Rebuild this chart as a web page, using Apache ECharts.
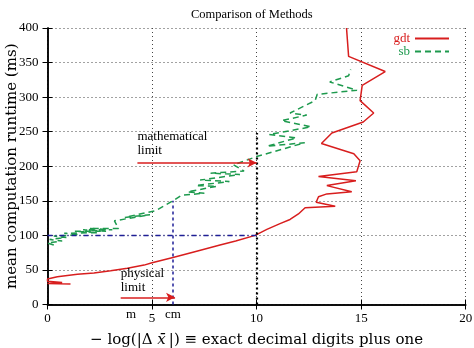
<!DOCTYPE html>
<html>
<head>
<meta charset="utf-8">
<script src="https://cdn.jsdelivr.net/npm/echarts@6/dist/echarts.min.js"></script>
<style>
  html, body { margin: 0; padding: 0; background: #fff; }
  #chart { width: 474px; height: 348px; }
</style>
</head>
<body>
<div id="chart"></div>
<script>
// Runtime (ms) against exact decimal digits for two methods.
const gdtDigits = [1.1, 0.0, 0.7, 0.0, 0.0, 0.47, 1.43, 2.22, 3.02, 3.82, 4.62, 5.0, 6.0, 7.0, 8.25, 9.0, 9.93,
  10.49, 11.12, 11.6, 12.0, 12.32, 13.76, 12.85, 12.96, 13.36, 14.55, 13.36, 14.75, 12.96, 14.79, 14.95,
  14.65, 13.1, 13.6, 15.1, 15.6, 14.95, 15.05, 16.15, 14.4, 14.3];
const gdtRuntime = [29.5, 30.5, 32, 33.5, 37, 40, 43.6, 45.5, 48.8, 52.3, 57, 60.5, 68, 76, 86, 92, 100,
  108.6, 117, 123, 131, 140, 142, 148, 156, 160, 163, 172, 179, 185, 192, 208,
  218, 233, 248, 264, 277, 295, 317, 337, 359, 400];

const sbDigits = [0.3, 0.0, 0.7, 0.1, 0.9, 0.3, 1.5, 0.8, 2.4, 1.3, 2.8, 1.7, 3.1, 2.0, 3.4,
  3.2, 4.9, 3.7, 5.2, 6.0, 6.4, 7.5, 6.7, 8.1, 7.1, 8.7, 7.3, 9.2, 7.8, 9.4, 8.9, 10.0,
  12.3, 10.5, 11.9, 10.6, 12.6, 11.2, 12.4, 11.6, 12.8, 12.9, 14.8, 13.5, 14.4, 14.5];
const sbRuntime = [86, 89, 92, 94, 97, 99, 101, 103, 104, 106, 106, 108, 108, 110, 110,
  121, 130, 126, 136, 150, 158, 161, 163, 171, 172, 178, 180, 188, 190, 193, 202, 214,
  234, 229, 241, 246, 257, 266, 274, 277, 295, 304, 310, 322, 331, 340];

// Guide lines and limit arrows, in data coordinates.
const cmGuide = [[6.0, 0], [6.0, 150]];
const runtimeGuide = [[0, 100], [10, 100]];
const digitGuide = [[10, 0], [10, 248]];
const mathLimitArrow = [[4.3, 205], [10, 205]];
const physLimitArrow = [[3.5, 10.4], [6.1, 10.4]];

// Axis ticks and unit labels.
const xTicks = [0, 5, 10, 15, 20];
const yTicks = [0, 50, 100, 150, 200, 250, 300, 350, 400];
const unitTickValues = [4, 6];
const unitTickNames = ['m', 'cm'];

const RED = '#d81e1e';
const GREEN = '#1e9a4e';
const BLUE = '#1f1f98';
const SERIF = '"Liberation Serif", "Times New Roman", serif';
const WIDE_SERIF = '"DejaVu Serif", serif';

const zip = (xs, ys) => xs.map((x, i) => [x, ys[i]]);

const chart = echarts.init(document.getElementById('chart'), null, { renderer: 'canvas' });

const gridLine = { show: true, lineStyle: { color: '#444', width: 1, type: [1, 3] } };
const frame = { show: true, lineStyle: { color: '#000', width: 1.5 } };
const innerTick = { show: true, inside: true, length: 5, lineStyle: { color: '#000', width: 1 } };
const noteLabel = (text, lift) => ({
  show: true, position: 'insideStartTop', distance: [0, lift], formatter: text,
  color: '#000', fontFamily: SERIF, fontSize: 13, lineHeight: 14
});

chart.setOption({
  animation: false,
  title: {
    text: 'Comparison of Methods',
    left: 186, top: 3,
    textStyle: { fontFamily: SERIF, fontSize: 12.5, fontWeight: 'normal', color: '#000' }
  },
  legend: {
    data: [
      { name: 'gdt', textStyle: { color: RED } },
      { name: 'sb', textStyle: { color: GREEN } }
    ],
    orient: 'vertical', align: 'right',
    right: 19, top: 27,
    itemWidth: 34, itemHeight: 10, itemGap: 0,
    // keys show only the stroke, no point marker
    itemStyle: { opacity: 0 },
    textStyle: { fontFamily: SERIF, fontSize: 13, lineHeight: 13 }
  },
  grid: { left: 47.5, right: 8.3, top: 28, bottom: 43.5, outerBoundsMode: 'none', containLabel: false },
  xAxis: [
    {
      type: 'value', min: xTicks[0], max: xTicks[xTicks.length - 1], interval: 5, position: 'bottom',
      axisLine: frame, axisTick: innerTick, splitLine: gridLine,
      axisLabel: { color: '#000', fontFamily: SERIF, fontSize: 13, margin: 8,
        formatter: v => (xTicks.indexOf(v) >= 0 ? String(v) : '') },
      name: '{n|− log(|Δ }{i|x̄}{n|\u2009|) ≡ exact decimal digits plus one}',
      nameLocation: 'middle', nameGap: 28, nameMoveOverlap: false,
      nameTextStyle: {
        rich: {
          n: { fontFamily: WIDE_SERIF, fontSize: 15, color: '#000' },
          i: { fontFamily: WIDE_SERIF, fontSize: 15, fontStyle: 'italic', color: '#000' }
        }
      }
    },
    {
      type: 'value', min: 0, max: 20, interval: 5, position: 'top',
      axisLine: frame, axisTick: innerTick, axisLabel: { show: false }, splitLine: { show: false }
    },
    {
      type: 'value', min: 0, max: 20, interval: 1, position: 'bottom',
      axisLine: { show: false }, axisTick: { show: false }, splitLine: { show: false },
      axisLabel: { color: '#000', fontFamily: SERIF, fontSize: 13, margin: 4,
        formatter: v => { const k = unitTickValues.indexOf(v); return k >= 0 ? unitTickNames[k] : ''; } }
    }
  ],
  yAxis: [
    {
      type: 'value', min: yTicks[0], max: yTicks[yTicks.length - 1], interval: 50, position: 'left',
      axisLine: frame, axisTick: innerTick, splitLine: gridLine,
      axisLabel: { color: '#000', fontFamily: SERIF, fontSize: 13, margin: 9 },
      name: 'mean computation runtime (ms)', nameLocation: 'middle', nameGap: 28, nameMoveOverlap: false,
      nameTextStyle: { fontFamily: WIDE_SERIF, fontSize: 15, color: '#000' }
    },
    {
      type: 'value', min: 0, max: 400, interval: 50, position: 'right',
      axisLine: frame, axisTick: innerTick, axisLabel: { show: false }, splitLine: { show: false }
    }
  ],
  series: [
    {
      name: 'guides', type: 'line', data: [], silent: true,
      markLine: {
        silent: true, animation: false,
        symbol: ['none', 'none'],
        label: { show: false },
        data: [
          [{ coord: runtimeGuide[0], lineStyle: { color: BLUE, width: 1.4, type: [5, 3, 1, 3] } },
           { coord: runtimeGuide[1] }],
          [{ coord: cmGuide[0], lineStyle: { color: BLUE, width: 1.5, type: [3, 3] } },
           { coord: cmGuide[1] }],
          [{ coord: digitGuide[0], lineStyle: { color: '#000', width: 2.2, type: [2, 3] } },
           { coord: digitGuide[1] }],
          [{ coord: mathLimitArrow[0], symbol: 'none', lineStyle: { color: RED, width: 1.6, type: 'solid' },
             label: noteLabel('mathematical\nlimit', 5) },
           { coord: mathLimitArrow[1], symbol: 'arrow', symbolSize: [7, 9] }],
          [{ coord: physLimitArrow[0], symbol: 'none', lineStyle: { color: RED, width: 1.6, type: 'solid' },
             label: noteLabel('physical\nlimit', 3) },
           { coord: physLimitArrow[1], symbol: 'arrow', symbolSize: [7, 9] }]
        ]
      }
    },
    {
      name: 'gdt', type: 'line', data: zip(gdtDigits, gdtRuntime),
      symbol: 'none', color: RED, itemStyle: { color: RED },
      lineStyle: { color: RED, width: 1.5 }
    },
    {
      name: 'sb', type: 'line', data: zip(sbDigits, sbRuntime),
      symbol: 'none', color: GREEN, itemStyle: { color: GREEN },
      lineStyle: { color: GREEN, width: 1.5, type: [6, 4] }
    }
  ]
});
</script>
</body>
</html>
